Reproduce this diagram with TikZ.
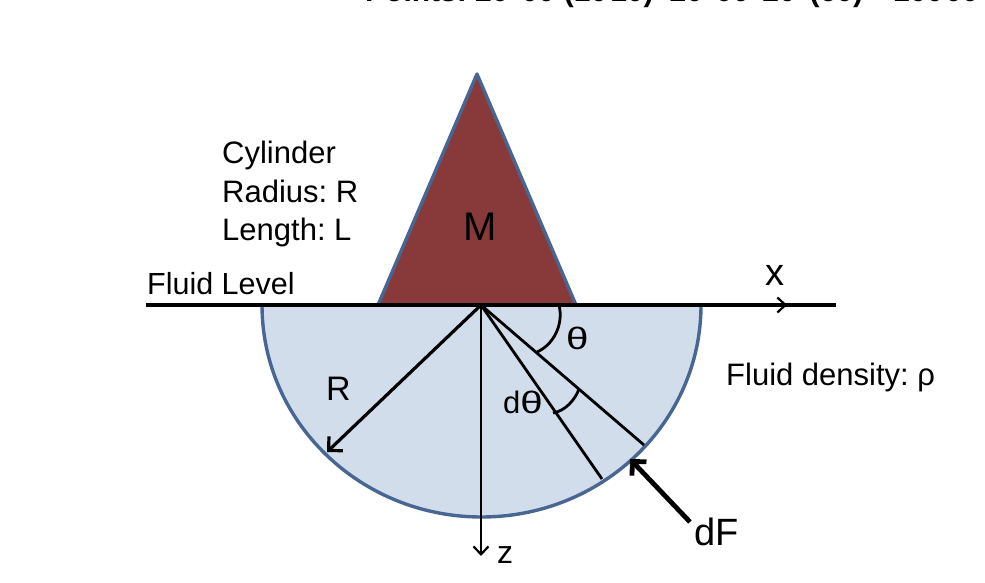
\documentclass[tikz,border=0pt]{standalone}
\usepackage{fontspec}
\usepackage{graphicx}
\setmainfont{Liberation Sans}
\usetikzlibrary{arrows.meta}
\definecolor{fluid}{RGB}{210,221,236}
\definecolor{edgeb}{RGB}{72,102,146}
\definecolor{mass}{RGB}{136,58,58}
\newcommand{\wtheta}{\scalebox{1.3}[1]{θ}}
\newcommand{\gp}[1]{\kern#1pt\relax}
\tikzset{x=1pt,y=-1pt,
 lbl/.style={inner sep=0pt,anchor=base west,text=black,font=\fontsize{#1}{#1}\selectfont\frenchspacing},
 lbl/.default=31,
 ln/.style={draw=black,line width=2.8pt},
 ax/.style={draw=black,line width=2.2pt,-{Straight Barb[length=8pt,width=15pt,line width=2.2pt]}},
 bigarrow/.style={draw=black,line width=#1,-{Straight Barb[length=10pt,width=20pt,line width=#1]}},
}
\begin{document}
\begin{tikzpicture}
\useasboundingbox (0,0) rectangle (985,583);
\clip (0,0) rectangle (985,583);
\coordinate (O) at (481,305);
\coordinate (LL) at (146,305);
\coordinate (LR) at (836,305);
\coordinate (Xs) at (770,305);
\coordinate (Xe) at (787,305);
\coordinate (Zend) at (481,556);
\coordinate (Rend) at (327,452);
\coordinate (A1) at (644,445);
\coordinate (A2) at (602,479);
\coordinate (Fs) at (690,522);
\coordinate (Fe) at (630,459);
\fill[fluid,draw=edgeb,line width=3.4pt] (262,305) arc[start angle=180,end angle=0,x radius=219.5,y radius=212] -- cycle;
\fill[mass,draw=edgeb,line width=3.4pt,line join=round] (378,305) -- (477,74) -- (576,305) -- cycle;
\draw[draw=black,line width=3.8pt] (LL) -- (LR);
\draw[ax] (Xs) -- (Xe);
\draw[ax] (O) -- (Zend);
\draw[bigarrow=3.2pt] (O) -- (Rend);
\draw[ln] (O) -- (A1);
\draw[ln] (O) -- (A2);
\draw[bigarrow=4.8pt] (Fs) -- (Fe);
\draw[ln] (559,305) .. controls (564,325) and (553,345) .. (537,352);
\draw[ln] (579,389) .. controls (575,400) and (565,411) .. (553,413);
\node[lbl=30] (top) at (365,1.5) {\bfseries Points: 20\gp{13}00\gp{9}(10\gp{3}10)\gp{16}20\gp{13}00\gp{13}20\gp{14}(60) \gp{-4}= 100\gp{2}00};
\node[lbl] (cyl) at (222,164) {Cylinder};
\node[lbl] (rad) at (222,202) {Radius: R};
\node[lbl] (len) at (222,240) {Length: L};
\node[lbl=30.5] (lev) at (147,294) {Fluid Level};
\node[lbl=40] (M) at (463,240) {M};
\node[lbl=38] (xl) at (765,285) {x};
\node[lbl=34] (Rl) at (326,400) {R};
\node[lbl=31] (th) at (566,349) {\wtheta};
\node[lbl=31] (dth) at (503,413) {d\wtheta};
\node[lbl=31] (dens) at (726,385) {Fluid density: ρ};
\node[lbl=38] (dF) at (694,545) {dF};
\node[lbl=32] (zl) at (497,563) {z};
\end{tikzpicture}
\end{document}
